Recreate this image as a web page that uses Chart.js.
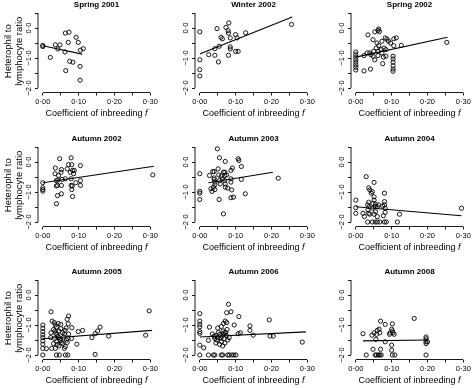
<!DOCTYPE html>
<html>
<head>
<meta charset="utf-8">
<script src="https://cdn.jsdelivr.net/npm/chart.js@4.4.0/dist/chart.umd.min.js"></script>
<style>
html, body { margin: 0; padding: 0; background: #fff; width: 474px; height: 388px; overflow: hidden; }
#wrap { position: relative; width: 474px; height: 388px; }
canvas { position: absolute; }
</style>
</head>
<body>
<div id="wrap"></div>
<script>
// ==========================
// Data
// ==========================
const titles = ["Spring 2001", "Winter 2002", "Spring 2002",
                "Autumn 2002", "Autumn 2003", "Autumn 2004",
                "Autumn 2005", "Autumn 2006", "Autumn 2008"];

const xTicks = [0, 0.05, 0.1, 0.15, 0.2, 0.25, 0.3];
const xLabelled = [0, 0.1, 0.2, 0.3];
const yTicks = [-2, -1.5, -1, -0.5, 0, 0.5];
const yLabelled = [-2, -1, 0];

// points are [inbreeding f, H:L ratio]
const spring2001 = [[0,-0.58],[0,-0.62],[0.021,-0.98],[0.035,-0.56],[0.042,-0.70],[0.048,-0.56],[0.063,-0.17],[0.073,-0.14],[0.071,-0.48],[0.062,-0.80],[0.075,-1.11],[0.084,-1.14],[0.064,-1.42],[0.093,-0.31],[0.099,-0.48],[0.105,-0.74],[0.113,-0.69],[0.104,-1.28],[0.104,-1.74]];
const spring2001Fit = [[0,-0.59],[0.11,-0.87]];

const winter2002 = [[0,-0.13],[0,-1.06],[0,-1.39],[0,-1.6],[0.025,-0.89],[0.042,-0.91],[0.042,-0.69],[0.048,-0.02],[0.052,-1.13],[0.054,-0.61],[0.059,-0.31],[0.063,-0.36],[0.073,0.02],[0.079,-0.09],[0.081,0.17],[0.080,-0.17],[0.085,-0.33],[0.085,-0.63],[0.085,-0.70],[0.080,-0.91],[0.10,-0.22],[0.104,-0.33],[0.10,-0.78],[0.107,-0.78],[0.128,-0.16],[0.256,0.12]];
const winter2002Fit = [[0,-0.87],[0.258,0.37]];

const spring2002 = [[0,-0.8],[0,-0.89],[0,-0.97],[0,-1.06],[0,-1.14],[0,-1.23],[0,-1.31],[0,-1.4],[0.023,-0.92],[0.023,-1.43],[0.032,-0.83],[0.034,-0.23],[0.039,-0.83],[0.042,-0.89],[0.041,-1.37],[0.048,-0.39],[0.05,-0.78],[0.048,-0.94],[0.053,-0.13],[0.053,-1.06],[0.057,-0.67],[0.059,-0.5],[0.062,-0.08],[0.064,-0.03],[0.066,-0.12],[0.064,-0.59],[0.062,-0.78],[0.062,-0.92],[0.071,-0.72],[0.073,-0.44],[0.073,-0.83],[0.075,-1.19],[0.077,-0.97],[0.079,-0.67],[0.082,-0.33],[0.084,-0.72],[0.084,-0.94],[0.087,-0.37],[0.091,-0.44],[0.097,-0.5],[0.106,-0.36],[0.113,-0.33],[0.106,-0.59],[0.104,-0.94],[0.104,-1.03],[0.104,-1.14],[0.104,-1.26],[0.104,-1.37],[0.104,-1.44],[0.127,-0.58],[0.254,-0.48]];
const spring2002Fit = [[0,-0.97],[0.256,-0.31]];

const autumn2002 = [[0,-0.69],[0,-0.86],[0,-0.92],[0,-0.97],[0.047,0.11],[0.035,-0.2],[0.034,-0.39],[0.038,-0.62],[0.041,-0.78],[0.038,-0.8],[0.042,-0.6],[0.044,-0.45],[0.051,-0.34],[0.052,-0.25],[0.054,-0.58],[0.052,-0.78],[0.041,-1.12],[0.038,-1.39],[0.052,-1.06],[0.063,-0.56],[0.068,-0.23],[0.072,-0.09],[0.077,-0.34],[0.079,0.14],[0.081,-0.09],[0.083,-0.28],[0.086,-0.39],[0.088,-0.28],[0.079,-0.56],[0.079,-0.78],[0.082,-0.8],[0.081,-0.92],[0.083,-1.15],[0.092,-0.69],[0.105,-0.12],[0.105,-0.62],[0.105,-0.78],[0.307,-0.43]];
const autumn2002Fit = [[0,-0.69],[0.31,-0.14]];

const autumn2003 = [[0,-0.39],[0,-0.98],[0,-1.04],[0,-1.25],[0.049,0.44],[0.055,0.14],[0.071,0.02],[0.107,0.11],[0.109,0.05],[0.116,-0.15],[0.091,-0.2],[0.087,-0.28],[0.027,-0.45],[0.036,-0.32],[0.040,-0.32],[0.04,-0.53],[0.04,-0.58],[0.042,-0.67],[0.042,-0.76],[0.038,-0.84],[0.042,-0.92],[0.034,-0.98],[0.031,-0.89],[0.051,-0.23],[0.053,-0.43],[0.055,-0.62],[0.057,-0.73],[0.06,-0.47],[0.063,-0.56],[0.066,-0.34],[0.07,-0.34],[0.07,-0.45],[0.069,-0.62],[0.071,-0.73],[0.071,-0.84],[0.075,-0.43],[0.087,-0.56],[0.087,-0.67],[0.089,-0.93],[0.087,-1.19],[0.094,-1.17],[0.078,-0.87],[0.054,-1.25],[0.066,-1.73],[0.116,-0.58],[0.127,-1.06],[0.219,-0.54]];
const autumn2003Fit = [[0.024,-0.69],[0.204,-0.34]];

const autumn2004 = [[0,-1.27],[0,-1.52],[0,-1.71],[0.029,-0.49],[0.036,-0.86],[0.039,-0.93],[0.043,-1.04],[0.046,-0.99],[0.036,-1.34],[0.033,-1.43],[0.037,-1.49],[0.034,-1.6],[0.036,-1.71],[0.039,-1.74],[0.033,-2.0],[0.046,-1.54],[0.048,-1.38],[0.051,-1.16],[0.051,-1.27],[0.054,-1.49],[0.051,-0.68],[0.055,-1.41],[0.051,-1.74],[0.055,-1.66],[0.06,-1.82],[0.046,-2.0],[0.054,-2.0],[0.06,-2.0],[0.067,-2.0],[0.06,-1.49],[0.064,-1.43],[0.024,-1.82],[0.02,-1.71],[0.08,-1.04],[0.08,-1.32],[0.08,-1.43],[0.075,-1.47],[0.082,-1.54],[0.082,-1.68],[0.077,-1.79],[0.08,-2.0],[0.085,-2.0],[0.116,-2.0],[0.122,-1.74],[0.295,-1.54]];
const autumn2004Fit = [[0,-1.49],[0.295,-1.79]];

const autumn2005 = [[0,-1.0],[0,-1.11],[0,-1.22],[0,-1.33],[0,-1.42],[0,-1.53],[0,-1.64],[0,-1.78],[0,-2.0],[0.01,-1.79],[0.023,-0.56],[0.026,-0.87],[0.023,-1.26],[0.022,-1.42],[0.025,-1.78],[0.032,-0.92],[0.035,-1.0],[0.038,-1.07],[0.043,-0.95],[0.050,-0.98],[0.030,-1.15],[0.034,-1.2],[0.036,-1.28],[0.04,-1.32],[0.042,-1.38],[0.045,-1.42],[0.047,-1.48],[0.05,-1.52],[0.052,-1.58],[0.038,-1.55],[0.033,-1.45],[0.03,-1.62],[0.04,-1.65],[0.045,-1.7],[0.055,-1.62],[0.058,-1.4],[0.06,-1.3],[0.062,-1.18],[0.065,-1.1],[0.055,-1.25],[0.066,-1.5],[0.068,-1.58],[0.063,-1.72],[0.07,-1.45],[0.072,-1.3],[0.06,-1.78],[0.035,-1.78],[0.05,-1.12],[0.045,-1.2],[0.072,-0.7],[0.068,-0.81],[0.071,-0.96],[0.081,-1.09],[0.099,-1.22],[0.111,-1.18],[0.095,-1.64],[0.08,-1.45],[0.137,-1.42],[0.146,-1.29],[0.153,-1.2],[0.16,-1.07],[0.146,-1.98],[0.184,-1.37],[0.287,-1.34],[0.297,-0.53],[0.038,-2.0],[0.046,-2.0],[0.063,-2.0],[0.070,-2.0]];
const autumn2005Fit = [[0,-1.46],[0.305,-1.18]];

const autumn2006 = [[0,-0.62],[0,-0.87],[0,-0.98],[0,-1.06],[0,-1.22],[0,-1.28],[0,-1.67],[0,-2.0],[0.011,-1.76],[0.027,-1.07],[0.024,-1.51],[0.024,-2.0],[0.038,-2.0],[0.042,-2.0],[0.035,-1.3],[0.04,-1.38],[0.042,-1.45],[0.045,-1.35],[0.048,-1.5],[0.05,-1.42],[0.052,-1.25],[0.055,-1.32],[0.058,-1.45],[0.06,-1.55],[0.062,-1.38],[0.065,-1.2],[0.066,-1.3],[0.068,-1.45],[0.07,-1.6],[0.072,-1.25],[0.074,-1.35],[0.076,-1.15],[0.078,-1.5],[0.064,-1.7],[0.055,-1.65],[0.045,-1.6],[0.05,-1.1],[0.06,-1.05],[0.066,-0.95],[0.07,-1.25],[0.082,-1.42],[0.08,-0.31],[0.075,-0.59],[0.087,-0.56],[0.071,-0.87],[0.075,-0.92],[0.096,-1.0],[0.109,-0.72],[0.107,-1.29],[0.113,-1.26],[0.14,-1.03],[0.14,-1.18],[0.149,-1.34],[0.194,-0.83],[0.196,-1.37],[0.205,-1.37],[0.286,-1.57],[0.06,-2.0],[0.064,-2.0],[0.078,-2.0],[0.082,-2.0],[0.089,-2.0],[0.095,-2.0],[0.101,-2.0]];
const autumn2006Fit = [[0,-1.4],[0.296,-1.23]];

const autumn2008 = [[0.02,-1.29],[0.045,-1.34],[0.029,-2.0],[0.051,-1.26],[0.056,-1.48],[0.058,-1.31],[0.06,-1.18],[0.065,-1.14],[0.069,-0.87],[0.067,-1.26],[0.048,-1.81],[0.054,-2.0],[0.058,-2.0],[0.063,-2.0],[0.067,-2.0],[0.071,-2.0],[0.069,-1.81],[0.082,-0.98],[0.082,-1.56],[0.094,-1.31],[0.096,-1.26],[0.1,-1.14],[0.102,-1.2],[0.104,-1.26],[0.102,-0.96],[0.1,-1.67],[0.1,-1.84],[0.102,-2.0],[0.109,-2.0],[0.107,-1.31],[0.163,-0.78],[0.196,-1.4],[0.196,-1.46],[0.196,-1.56],[0.196,-1.62],[0.2,-1.56],[0.196,-2.0]];
const autumn2008Fit = [[0.02,-1.53],[0.2,-1.5]];

const panelPoints = [spring2001, winter2002, spring2002, autumn2002, autumn2003, autumn2004, autumn2005, autumn2006, autumn2008];
const panelFits = [spring2001Fit, winter2002Fit, spring2002Fit, autumn2002Fit, autumn2003Fit, autumn2004Fit, autumn2005Fit, autumn2006Fit, autumn2008Fit];

// ==========================
// Layout
// ==========================
const colLeft = [0, 157, 313];
const rowTop = [0, 134, 267];
const FONT = '"Liberation Sans", Arial, sans-serif';

// R style number: 0·10, −1·0
function fmt(v, d) {
    return v.toFixed(d).replace("-", "\u2212").replace(".", "\u00b7");
}

// ==========================
// R-like axes, labels and titles
// ==========================
const rAxes = {
    id: "rAxes",
    afterDraw(chart, args, opts) {
        const ctx = chart.ctx;
        const a = chart.chartArea;
        const x = chart.scales.x, y = chart.scales.y;
        ctx.save();
        ctx.strokeStyle = "#000";
        ctx.lineWidth = 0.9;
        ctx.beginPath();
        ctx.moveTo(a.left, y.getPixelForValue(yTicks[0]));
        ctx.lineTo(a.left, y.getPixelForValue(yTicks[yTicks.length - 1]));
        ctx.moveTo(x.getPixelForValue(xTicks[0]), a.bottom);
        ctx.lineTo(x.getPixelForValue(xTicks[xTicks.length - 1]), a.bottom);
        ctx.stroke();

        ctx.fillStyle = "#000";
        ctx.textAlign = "center";
        ctx.textBaseline = "middle";
        ctx.font = "7.5px " + FONT;
        xLabelled.forEach(v => ctx.fillText(fmt(v, 2), x.getPixelForValue(v), a.bottom + 9.5));
        yLabelled.forEach(v => {
            ctx.save();
            ctx.translate(a.left - 9.5, y.getPixelForValue(v));
            ctx.rotate(-Math.PI / 2);
            ctx.fillText(fmt(v, 1), 0, 0);
            ctx.restore();
        });

        // panel title
        const cx = (a.left + a.right) / 2;
        ctx.font = "bold 8px " + FONT;
        ctx.fillText(opts.title, cx, 5);

        // x title with italic f
        const t1 = "Coefficient of inbreeding ";
        ctx.font = "9px " + FONT;
        const w1 = ctx.measureText(t1).width;
        ctx.font = "italic 9px " + FONT;
        const w2 = ctx.measureText("f").width;
        ctx.textAlign = "left";
        let sx = cx - (w1 + w2) / 2;
        ctx.font = "9px " + FONT;
        ctx.fillText(t1, sx, a.bottom + 21);
        ctx.font = "italic 9px " + FONT;
        ctx.fillText("f", sx + w1, a.bottom + 21);

        // y title on first column only
        if (opts.yTitle) {
            const cy = (a.top + a.bottom) / 2;
            ctx.textAlign = "center";
            ctx.font = "9.5px " + FONT;
            ["Heterophil to", "lymphocyte ratio"].forEach((s, k) => {
                ctx.save();
                ctx.translate(8 + k * 11, cy);
                ctx.rotate(-Math.PI / 2);
                ctx.fillText(s, 0, 0);
                ctx.restore();
            });
        }
        ctx.restore();
    }
};

// ==========================
// Build the nine panels
// ==========================
const wrap = document.getElementById("wrap");

titles.forEach((title, i) => {
    const col = i % 3, row = Math.floor(i / 3);
    const cv = document.createElement("canvas");
    cv.width = 160;
    cv.height = 121;
    cv.style.left = colLeft[col] + "px";
    cv.style.top = rowTop[row] + "px";
    wrap.appendChild(cv);

    const tickGrid = { drawOnChartArea: false, drawTicks: true, tickLength: 3, color: "#000", lineWidth: 0.9 };

    new Chart(cv, {
        type: "scatter",
        data: {
            datasets: [{
                data: panelPoints[i].map(p => ({ x: p[0], y: p[1] })),
                pointStyle: "circle",
                pointRadius: 2.1,
                borderColor: "#000",
                borderWidth: 0.9,
                backgroundColor: "rgba(0,0,0,0)",
                clip: false
            }, {
                data: panelFits[i].map(p => ({ x: p[0], y: p[1] })),
                showLine: true,
                pointRadius: 0,
                borderColor: "#000",
                borderWidth: 1.1,
                clip: false
            }]
        },
        options: {
            responsive: false,
            animation: false,
            devicePixelRatio: 1,
            layout: { padding: { top: 10, left: 0, right: 0, bottom: 0 } },
            plugins: {
                legend: { display: false },
                tooltip: { enabled: false },
                rAxes: { title: title, yTitle: col === 0 }
            },
            scales: {
                x: {
                    type: "linear",
                    min: -0.0134,
                    max: 0.3134,
                    afterBuildTicks: s => { s.ticks = xTicks.map(v => ({ value: v })); },
                    afterFit: s => { s.height = 28.5; },
                    ticks: { display: false },
                    grid: tickGrid,
                    border: { display: false }
                },
                y: {
                    type: "linear",
                    min: -2.15,
                    max: 0.6,
                    afterBuildTicks: s => { s.ticks = yTicks.map(v => ({ value: v })); },
                    afterFit: s => { s.width = 38; },
                    ticks: { display: false },
                    grid: tickGrid,
                    border: { display: false }
                }
            }
        },
        plugins: [rAxes]
    });
});
</script>
</body>
</html>
